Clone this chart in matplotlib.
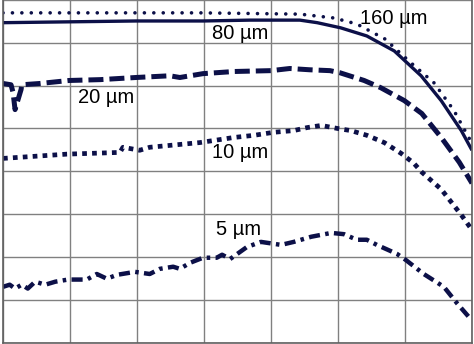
import matplotlib.pyplot as plt

# curves, in grid units (x: 0-7, y: 0-8)
x_160 = [0, 1.45, 2.94, 4.43, 4.94, 5.28, 5.70, 6.09, 6.43, 6.73, 7.0]
y_160 = [7.70, 7.70, 7.70, 7.67, 7.58, 7.44, 7.09, 6.53, 6.07, 5.42, 4.65]

x_80 = [0, 0.985, 1.985, 2.985, 3.69, 4.43, 4.69, 5.04, 5.43, 5.84, 6.24, 6.54, 6.84, 7.0]
y_80 = [7.47, 7.49, 7.51, 7.51, 7.53, 7.53, 7.47, 7.35, 7.16, 6.81, 6.23, 5.65, 4.95, 4.49]

x_20 = [0, 0.12, 0.15, 0.18, 0.27, 0.28, 0.55, 0.985, 1.45, 1.985, 2.49, 2.64, 2.985,
        3.45, 4.0, 4.28, 4.58, 4.88, 5.03, 5.39, 5.64, 5.99, 6.25, 6.54, 6.81, 7.0]
y_20 = [6.05, 6.02, 5.84, 5.44, 5.91, 6.02, 6.05, 6.12, 6.14, 6.19, 6.23, 6.19, 6.28,
        6.33, 6.35, 6.40, 6.37, 6.35, 6.30, 6.12, 5.95, 5.65, 5.35, 4.79, 4.21, 3.72]

x_10 = [0, 0.955, 1.746, 1.79, 2.04, 2.19, 2.94, 3.45, 3.75, 4.04, 4.34, 4.54, 4.75,
        4.99, 5.19, 5.43, 5.69, 5.94, 6.13, 6.25, 6.54, 6.84, 7.0]
y_10 = [4.30, 4.40, 4.44, 4.56, 4.49, 4.56, 4.67, 4.79, 4.84, 4.91, 4.95, 5.02, 5.07,
        5.00, 4.95, 4.84, 4.67, 4.42, 4.19, 3.98, 3.58, 2.98, 2.63]

x_5 = [0, 0.10, 0.18, 0.28, 0.37, 0.48, 0.63, 0.78, 0.97, 1.25, 1.40, 1.55, 1.70, 1.97,
       2.19, 2.34, 2.54, 2.64, 2.79, 2.985, 3.19, 3.27, 3.39, 3.64, 3.85, 4.15, 4.34,
       4.60, 4.90, 5.09, 5.28, 5.43, 5.58, 5.88, 6.01, 6.28, 6.58, 6.78, 6.99]
y_5 = [1.30, 1.35, 1.26, 1.35, 1.26, 1.42, 1.35, 1.42, 1.47, 1.47, 1.60, 1.49, 1.58, 1.65,
       1.60, 1.72, 1.77, 1.72, 1.86, 1.98, 1.98, 2.05, 1.95, 2.23, 2.35, 2.28, 2.35,
       2.47, 2.56, 2.53, 2.40, 2.40, 2.28, 2.07, 1.93, 1.60, 1.30, 0.91, 0.53]

labels = ['160 µm', '80 µm', '20 µm', '10 µm', '5 µm']
label_x = [5.83, 3.54, 1.54, 3.54, 3.51]
label_y = [7.56, 7.21, 5.72, 4.44, 2.65]

navy = '#0c1048'

fig = plt.figure(figsize=(4.74, 3.44), dpi=100)
ax = fig.add_axes([3 / 474, 1.5 / 344, 469 / 474, 342.5 / 344])

ax.plot(x_160, y_160, color=navy, lw=2.6, linestyle=(0, (0.01, 2.6)), dash_capstyle='round')
ax.plot(x_80, y_80, color=navy, lw=2.4, solid_capstyle='butt')
ax.plot(x_20, y_20, color=navy, lw=3.6, linestyle=(0, (3, 1.2)))
ax.plot(x_10, y_10, color=navy, lw=3.4, linestyle=(0, (1, 1.1)))
ax.plot(x_5, y_5, color=navy, lw=3.2, linestyle=(0, (2.5, 1.2, 0.8, 1.2)))

for t, tx, ty in zip(labels, label_x, label_y):
    ax.text(tx, ty, t, ha='center', va='center', fontsize=14.5,
            family=['Liberation Sans', 'DejaVu Sans'], color='black')

ax.set_xlim(0, 7)
ax.set_ylim(0, 8)
ax.set_xticks(range(8))
ax.set_yticks(range(9))
ax.grid(True, color='#808080', lw=1.0)
ax.tick_params(length=0, labelbottom=False, labelleft=False)
for s in ['left', 'right', 'bottom']:
    ax.spines[s].set_color('#606060')
    ax.spines[s].set_linewidth(1.2)
ax.spines['top'].set_visible(False)

fig.savefig('out.png', dpi=100)
